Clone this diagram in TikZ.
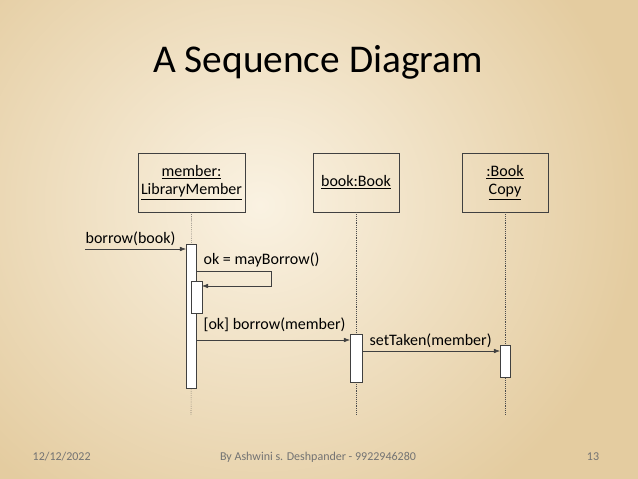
\documentclass[tikz,border=0pt]{standalone}
\usepackage{fontspec}
\setmainfont{Carlito}
\usetikzlibrary{arrows.meta,positioning,calc}
\definecolor{bgin}{RGB}{250,242,226}
\definecolor{bgout}{RGB}{228,204,160}
\tikzset{
  >={Latex[length=1.6mm,width=1.2mm]},
  obj/.style={draw=black!75, minimum height=59*0.75pt, align=center, inner sep=1pt, font=\fontsize{12}{14}\selectfont},
  act/.style={draw=black!75, fill=white},
  life/.style={densely dotted, black!70},
  msg/.style={->, black!75},
  lbl/.style={font=\fontsize{12}{14}\selectfont, inner sep=1pt},
  foot/.style={font=\fontsize{9}{10}\selectfont, text=black!55, anchor=base},
}
\begin{document}
\begin{tikzpicture}[x=0.75pt, y=-0.75pt]
  \useasboundingbox (0,0) rectangle (638,478);
  \clip (0,0) rectangle (638,478);
  \shade[inner color=bgin, outer color=bgout] (-120,-150) rectangle (640,560);

  \node[font=\fontsize{29.5}{34}\selectfont] (title) at (318,62) {A Sequence Diagram};

  % objects
  \node[obj, minimum width=107*0.75pt] (member) at (191.5,182.5) {\underline{member:}\\\underline{LibraryMember}};
  \node[obj, minimum width=86*0.75pt] (book) at (356,182.5) {\underline{book:Book}};
  \node[obj, minimum width=86*0.75pt] (copy) at (505,182.5) {\underline{:Book}\\\underline{Copy}};

  % lifelines
  \coordinate (memberend) at (191,415);
  \coordinate (bookend) at (356,415);
  \coordinate (copyend) at (505,415);
  \draw[life] (member.south) -- (memberend);
  \draw[life] (book.south) -- (bookend);
  \draw[life] (copy.south) -- (copyend);

  % activations
  \draw[act] (186,244) rectangle (196,388);
  \draw[act] (191,281) rectangle (202,313);
  \draw[act] (350,334) rectangle (362,382);
  \draw[act] (500,345) rectangle (510,377);

  % messages
  \coordinate (start) at (85,249);
  \coordinate (a1) at (186,249);
  \draw[msg] (start) -- (a1);
  \node[lbl, anchor=south west] (m1) at (84,247) {borrow(book)};

  \coordinate (s1) at (196,271);
  \coordinate (s2) at (202,286);
  \draw[msg] (s1) -- (271,271) -- (271,286) -- (s2);
  \node[lbl, anchor=south west] (m2) at (202,269) {ok = mayBorrow()};

  \coordinate (b1) at (196,340);
  \coordinate (b2) at (350,340);
  \draw[msg] (b1) -- (b2);
  \node[lbl, anchor=south west] (m3) at (202,333) {[ok] borrow(member)};

  \coordinate (t1) at (362,351);
  \coordinate (t2) at (500,351);
  \draw[msg] (t1) -- (t2);
  \node[lbl, anchor=south west] (m4) at (368,349) {setTaken(member)};

  % footer
  \node[foot, anchor=base west] (date) at (28,460) {12/12/2022};
  \node[foot] (by) at (318,460) {By Ashwini s. Deshpander - 9922946280};
  \node[foot] (page) at (593,460) {13};
\end{tikzpicture}
\end{document}
